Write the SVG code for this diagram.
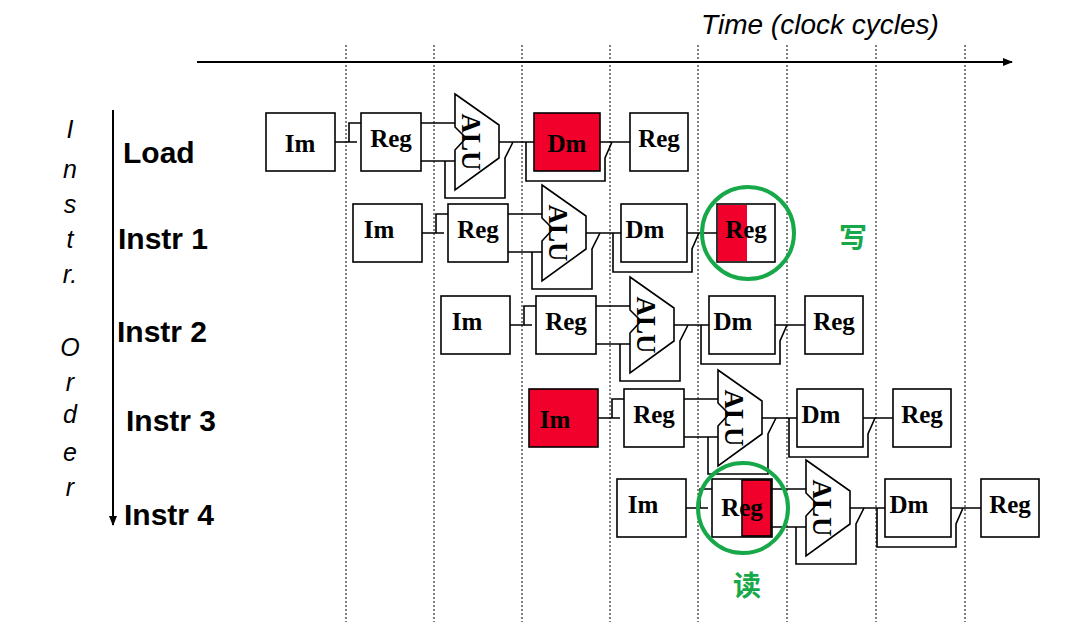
<svg xmlns="http://www.w3.org/2000/svg" xmlns:xlink="http://www.w3.org/1999/xlink" width="1071" height="628" viewBox="0 0 1071 628">
<style>
.bx{fill:#fff;stroke:#000;stroke-width:1.6}
.red{fill:#f0002a}
.w{fill:none;stroke:#000;stroke-width:1.6}
.t{font-family:"Liberation Serif",serif;font-weight:bold;font-size:25px;text-anchor:middle}
.a{font-family:"Liberation Serif",serif;font-weight:bold;font-size:27px;text-anchor:middle}
.lb{font-family:"Liberation Sans",Arial,sans-serif;font-weight:bold;font-size:30px}
.ax{font-family:"Liberation Sans",Arial,sans-serif;font-style:italic;font-size:28px;text-anchor:middle}
.grid{stroke:#000;stroke-width:1;stroke-dasharray:2,2}
.cir{fill:none;stroke:#17a84a;stroke-width:4}
.cn{font-family:"Noto Sans CJK SC",sans-serif;font-weight:bold;font-size:28px;fill:#17a84a;text-anchor:middle}
</style>
<defs>
<marker id="ah" markerWidth="10" markerHeight="10" refX="9" refY="5" orient="auto" markerUnits="userSpaceOnUse"><path d="M0,1 L10,5 L0,9 z" fill="#000"/></marker>
<g id="wires">
<path class="w" d="M335,142 H357 M349,142 V123 H361"/>
<path class="w" d="M421,123 H455 M421,161 H455 M445,161 V198 H505 V158 L513,142 M499,142 H534"/>
<path class="w" d="M526,142 V181 H605 V158 L612,142 M600,142 H630"/>
</g>
<polygon id="alu" class="bx" points="455,94 499,125 499,158 455,190 455,150 466,138 455,127"/>
</defs>
<rect width="1071" height="628" fill="#fff"/>
<g id="grid">
<line class="grid" x1="346" y1="45" x2="346" y2="622"/>
<line class="grid" x1="434" y1="45" x2="434" y2="622"/>
<line class="grid" x1="522" y1="45" x2="522" y2="622"/>
<line class="grid" x1="610" y1="45" x2="610" y2="622"/>
<line class="grid" x1="698" y1="45" x2="698" y2="622"/>
<line class="grid" x1="787" y1="45" x2="787" y2="622"/>
<line class="grid" x1="876" y1="45" x2="876" y2="622"/>
<line class="grid" x1="965" y1="45" x2="965" y2="622"/>
</g>
<text class="ax" x="820" y="34">Time (clock cycles)</text>
<line x1="197" y1="62" x2="1012" y2="62" stroke="#000" stroke-width="2" marker-end="url(#ah)"/>
<line x1="113" y1="110" x2="113" y2="525" stroke="#000" stroke-width="2" marker-end="url(#ah)"/>
<g class="ax" style="font-size:25px">
<text x="70" y="138">I</text><text x="70" y="178">n</text><text x="70" y="213">s</text><text x="70" y="248">t</text><text x="70" y="283">r.</text>
<text x="70" y="356">O</text><text x="70" y="391">r</text><text x="70" y="423">d</text><text x="70" y="461">e</text><text x="70" y="496">r</text>
</g>
<text class="lb" x="123" y="163">Load</text>
<text class="lb" x="118" y="249">Instr 1</text>
<text class="lb" x="117" y="342">Instr 2</text>
<text class="lb" x="126" y="431">Instr 3</text>
<text class="lb" x="124" y="525">Instr 4</text>
<g id="connectors">
<use xlink:href="#wires"/>
<use xlink:href="#wires" transform="translate(87,91)"/>
<use xlink:href="#wires" transform="translate(175,183)"/>
<use xlink:href="#wires" transform="translate(263,276)"/>
<use xlink:href="#wires" transform="translate(351,366)"/>
</g>
<g id="load">
<rect class="bx" x="266" y="113" width="69" height="58"/><text class="t" x="300" y="152">Im</text>
<rect class="bx" x="361" y="113" width="60" height="58"/><text class="t" x="391" y="147">Reg</text>
<use xlink:href="#alu"/><text class="a" transform="translate(471,142) rotate(90)" y="9">ALU</text>
<rect class="bx red" x="534" y="113" width="66" height="58"/><text class="t" x="567" y="152">Dm</text>
<rect class="bx" x="630" y="113" width="58" height="58"/><text class="t" x="659" y="147">Reg</text>
</g>
<g id="instr1" transform="translate(87,91)">
<rect class="bx" x="266" y="113" width="69" height="58"/><text class="t" x="292" y="147">Im</text>
<rect class="bx" x="361" y="113" width="60" height="58"/><text class="t" x="391" y="147">Reg</text>
<use xlink:href="#alu"/><text class="a" transform="translate(471,142) rotate(90)" y="9">ALU</text>
<rect class="bx" x="534" y="113" width="66" height="58"/><text class="t" x="558" y="147">Dm</text>
<rect class="bx" x="630" y="113" width="58" height="58"/><rect class="red" x="631" y="114" width="29" height="56"/><text class="t" x="659" y="147">Reg</text>
</g>
<g id="instr2" transform="translate(175,183)">
<rect class="bx" x="266" y="113" width="69" height="58"/><text class="t" x="292" y="147">Im</text>
<rect class="bx" x="361" y="113" width="60" height="58"/><text class="t" x="391" y="147">Reg</text>
<use xlink:href="#alu"/><text class="a" transform="translate(471,142) rotate(90)" y="9">ALU</text>
<rect class="bx" x="534" y="113" width="66" height="58"/><text class="t" x="558" y="147">Dm</text>
<rect class="bx" x="630" y="113" width="58" height="58"/><text class="t" x="659" y="147">Reg</text>
</g>
<g id="instr3" transform="translate(263,276)">
<rect class="bx red" x="266" y="113" width="69" height="58"/><text class="t" x="292" y="152">Im</text>
<rect class="bx" x="361" y="113" width="60" height="58"/><text class="t" x="391" y="147">Reg</text>
<use xlink:href="#alu"/><text class="a" transform="translate(471,142) rotate(90)" y="9">ALU</text>
<rect class="bx" x="534" y="113" width="66" height="58"/><text class="t" x="558" y="147">Dm</text>
<rect class="bx" x="630" y="113" width="58" height="58"/><text class="t" x="659" y="147">Reg</text>
</g>
<g id="instr4" transform="translate(351,366)">
<rect class="bx" x="266" y="113" width="69" height="58"/><text class="t" x="292" y="147">Im</text>
<rect class="bx" x="361" y="113" width="60" height="58"/><rect class="red" x="391" y="114" width="29" height="56" stroke="#000" stroke-width="1.6"/><text class="t" x="391" y="150">Reg</text>
<use xlink:href="#alu"/><text class="a" transform="translate(471,142) rotate(90)" y="9">ALU</text>
<rect class="bx" x="534" y="113" width="66" height="58"/><text class="t" x="558" y="147">Dm</text>
<rect class="bx" x="630" y="113" width="58" height="58"/><text class="t" x="659" y="147">Reg</text>
</g>
<g id="write-mark"><circle class="cir" cx="748" cy="233" r="46"/><text class="cn" x="853" y="248">写</text></g>
<g id="read-mark"><circle class="cir" cx="743" cy="508" r="45"/><text class="cn" x="747" y="596">读</text></g>
</svg>
